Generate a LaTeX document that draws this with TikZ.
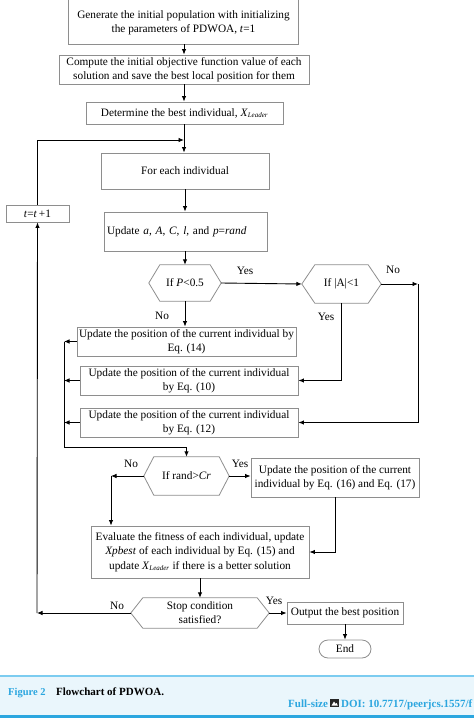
\documentclass[tikz,border=0pt]{standalone}
\usepackage{fontspec}
\setmainfont{Liberation Serif}
\usetikzlibrary{arrows.meta}
\definecolor{boxgray}{HTML}{8E8E8E}
\definecolor{capblue}{HTML}{2BA6DF}
\definecolor{caplight}{HTML}{7CCCF0}
\definecolor{capfill}{HTML}{EAF6FC}
\newcommand\hexof[2]{\draw[hexline] (#1.west) -- ([xshift=#2]#1.north west) -- ([xshift=-#2]#1.north east) -- (#1.east) -- ([xshift=-#2]#1.south east) -- ([xshift=#2]#1.south west) -- cycle;}
\newcommand\xlead{\textit{X}\textsubscript{\textit{\scriptsize Leader}}}
\begin{document}
\begin{tikzpicture}[x=1pt,y=-1pt,
  txt/.style={font=\fontsize{11.3}{14.3}\selectfont},
  box/.style={txt,draw=boxgray,line width=0.8pt,fill=white,inner sep=0pt,align=center},
  hexnode/.style={txt,inner sep=0pt,align=center},
  hexline/.style={draw=boxgray,line width=0.8pt},
  lbl/.style={txt,inner sep=0pt},
  arr/.style={line width=0.9pt,-{Latex[length=5.5pt,width=4.5pt]}},
  ln/.style={line width=0.9pt}]
\useasboundingbox (0,0) rectangle (474,718);
\clip (0,0) rectangle (474,718);
% boxes
\node[box,draw=none,minimum width=229pt,minimum height=42pt] (b1) at (183.5,23) {Generate the initial population with initializing\\the parameters of PDWOA, \textit{t}=1};
\draw[hexline] ([yshift=6pt]b1.north west) -- (b1.south west) -- (b1.south east) -- ([yshift=6pt]b1.north east);
\node[box,minimum width=250pt,minimum height=29pt] (b2) at (184,69.5) {Compute the initial objective function value of each\\solution and save the best local position for them};
\node[box,minimum width=197pt,minimum height=22pt] (b3) at (184.5,113) {Determine the best individual, \xlead};
\node[box,minimum width=168pt,minimum height=36pt] (b4) at (185,171) {For each individual};
\node[box,minimum height=39pt,text width=157pt,inner xsep=3pt,align=left] (b5) at (185.5,231.5) {Update \textit{a}, \textit{A}, \textit{C}, \textit{l}, and \textit{p}=\textit{rand}};
\node[box,minimum width=63pt,minimum height=17pt] (tb) at (37.5,213.5) {\textit{t}=\textit{t}\,+1};
% hexagons
\node[hexnode,minimum width=72pt,minimum height=36pt] (h1) at (185,283) {If \textit{P}<0.5};
\hexof{h1}{11pt}
\node[hexnode,minimum width=79pt,minimum height=38pt] (h2) at (341.5,284) {If |A|<1};
\hexof{h2}{13pt}
\node[box,minimum width=219pt,minimum height=29pt] (e14) at (186.5,341.5) {Update the position of the current individual by\\Eq. (14)};
\node[box,minimum width=218pt,minimum height=29pt] (e10) at (189,380.5) {Update the position of the current individual\\by Eq. (10)};
\node[box,minimum width=218pt,minimum height=29pt] (e12) at (189,422.5) {Update the position of the current individual\\by Eq. (12)};
\node[hexnode,minimum width=85pt,minimum height=38pt] (h3) at (186.5,476) {If rand>\textit{Cr}};
\hexof{h3}{10pt}
\node[box,minimum width=168pt,minimum height=39pt] (e16) at (335,477.5) {Update the position of the current\\individual by Eq. (16) and Eq. (17)};
\node[box,minimum width=218pt,minimum height=52pt] (ev) at (200,552) {Evaluate the fitness of each individual, update\\\textit{Xpbest} of each individual by Eq. (15) and\\update \xlead{} if there is a better solution};
\node[hexnode,minimum width=138pt,minimum height=30pt] (h4) at (200,613) {Stop condition\\satisfied?};
\hexof{h4}{12pt}
\node[box,minimum width=116pt,minimum height=22pt] (out) at (345,613) {Output the best position};
\node[box,minimum width=52pt,minimum height=18pt,rounded corners=9pt] (end) at (345,649) {End};
% junction coordinates
\coordinate (jtop) at (184,140);
\coordinate (jloop) at (37,613);
\coordinate (jno2) at (418,284);
\coordinate (jcol) at (64,447);
\coordinate (jno3) at (111,476);
% connectors
\draw[arr] (b1.south -| 184,0) -- (b2.north -| 184,0);
\draw[arr] (b2.south -| 184,0) -- (b3.north -| 184,0);
\draw[arr] (b3.south -| 184,0) -- (b4.north -| 184,0);
\draw[arr] (b4.south) -- (b5.north -| b4.south);
\draw[arr] (b5.south -| h1.north) -- (h1.north);
\draw[arr] (tb.north) |- (jtop);
\draw[arr] (h1.east) -- (h2.west);
\draw[arr] (h2.east) -- (jno2);
\draw[arr] (jno2) |- (e12.east);
\draw[arr] (h2.south) |- (e10.east);
\draw[arr] (h1.south) -- (e14.north -| h1.south);
\draw[arr] (e14.west) -- (e14.west -| jcol);
\draw[arr] (e10.west) -- (e10.west -| jcol);
\draw[arr] (e12.west) -- (e12.west -| jcol);
\draw[ln] (e14.west -| jcol) -- (jcol);
\draw[arr] (jcol) -| (h3.north);
\draw[arr] (h3.east) -- (e16.west |- h3.east);
\draw[arr] (h3.west) -- (jno3);
\draw[arr] (jno3) -- (ev.north -| jno3);
\draw[arr] (e16.south) |- (ev.east);
\draw[arr] (ev.south) -- (h4.north);
\draw[arr] (h4.east) -- (out.west);
\draw[arr] (h4.west) -- (jloop);
\draw[arr] (jloop) -- (tb.south);
\draw[arr] (out.south) -- (end.north);
% labels
\node[lbl] (l1) at (245,271) {Yes};
\node[lbl] (l2) at (393,270) {No};
\node[lbl] (l3) at (326,317) {Yes};
\node[lbl] (l4) at (162,316) {No};
\node[lbl] (l5) at (240,464) {Yes};
\node[lbl] (l6) at (131,464) {No};
\node[lbl] (l7) at (274,601) {Yes};
\node[lbl] (l8) at (117,606) {No};
% caption band
\fill[capfill] (0,676) rectangle (474,718);
\draw[caplight,line width=1.2pt] (0,676) -- (474,676);
\draw[capblue,line width=3pt] (0,716.5) -- (474,716.5);
\node[anchor=base west,inner sep=0pt,font=\bfseries\fontsize{10.5}{13}\selectfont,text=capblue] (fig) at (8,695) {Figure 2};
\node[anchor=base west,inner sep=0pt,font=\bfseries\fontsize{11}{13}\selectfont] (ttl) at (56,695) {Flowchart of PDWOA.};
\node[anchor=base west,inner sep=0pt,font=\bfseries\fontsize{11}{13}\selectfont,text=capblue] (fs) at (288,707) {Full-size};
\fill[black!85] (330,698.5) rectangle (339,706.5);
\fill[white] (331.5,705.5) -- (334,701.5) -- (335.7,704) -- (336.7,703) -- (337.8,705.5) -- cycle;
\node[anchor=base west,inner sep=0pt,font=\bfseries\fontsize{11}{13}\selectfont,text=capblue] (doi) at (341,707) {DOI: 10.7717/peerjcs.1557/f};
\end{tikzpicture}
\end{document}
